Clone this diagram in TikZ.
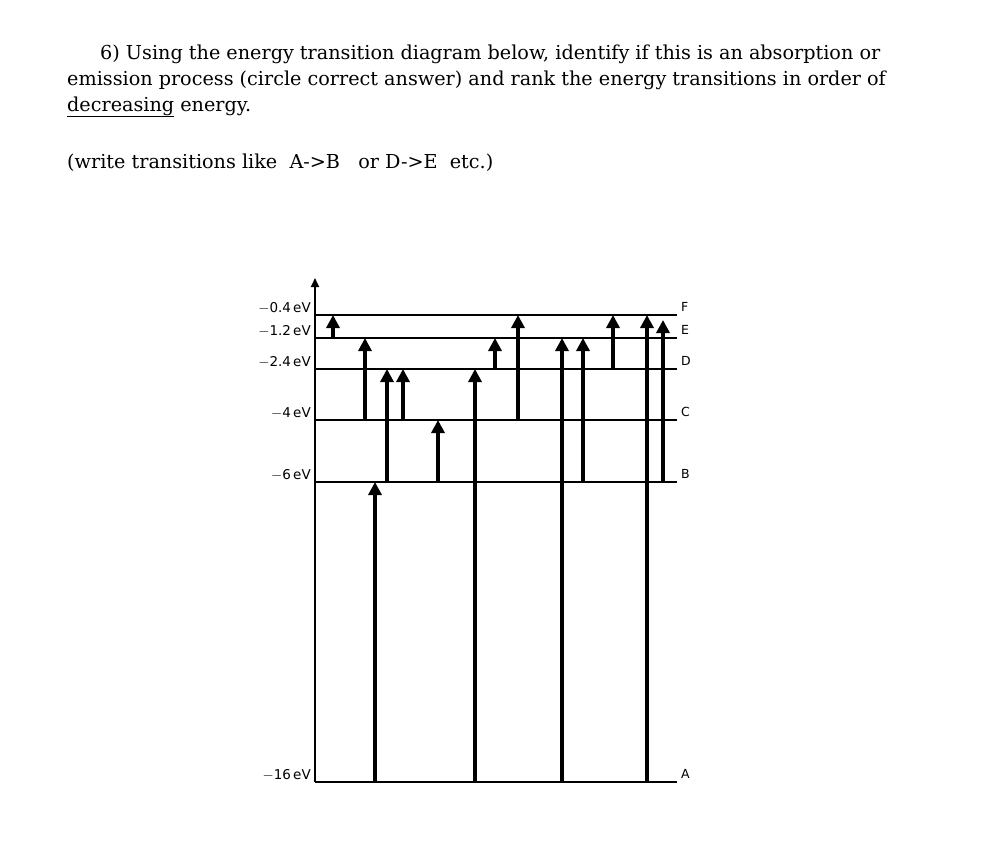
\documentclass[tikz,border=0pt]{standalone}
\usepackage{fontspec}
\setmainfont{DejaVu Serif}
\newfontfamily\lblfont{DejaVu Sans}
\usetikzlibrary{arrows.meta}
\begin{document}
\begin{tikzpicture}[x=1pt,y=-1pt,
  txt/.style={anchor=base west,inner sep=0pt,font=\fontsize{19.2}{22}\selectfont},
  lvl/.style={line width=1.8pt},
  ylab/.style={anchor=east,inner sep=0pt,font=\lblfont\fontsize{13.5}{15}\selectfont},
  rlab/.style={anchor=west,inner sep=0pt,font=\lblfont\fontsize{12.5}{15}\selectfont},
  up/.style={line width=3.5pt,-{Triangle[length=13pt,width=13pt]}}]
\useasboundingbox (0,0) rectangle (994,847);
\fill[white] (0,0) rectangle (994,847);
\node[txt] (t1) at (100,59) {6) Using the energy transition diagram below, identify if this is an absorption or};
\node[txt] (t2) at (67,85) {emission process (circle correct answer) and rank the energy transitions in order of};
\node[txt] (t3) at (67,111) {\underline{decreasing} energy.};
\node[txt] (t4) at (67,168) {(write transitions like\ \ A->B\ \ \ or D->E\ \ etc.)};
% axis
\coordinate (ax0) at (315,782);
\coordinate (ax1) at (315,278);
\draw[lvl,-{Triangle[length=9pt,width=8pt]}] (ax0) -- (ax1);
\foreach \n/\y/\v in {F/315/{$-$0.4\,eV},E/338/{$-$1.2\,eV},D/369/{$-$2.4\,eV},C/420/{$-$4\,eV},B/482/{$-$6\,eV},A/782/{$-$16\,eV}}{
  \coordinate (L\n) at (315,\y);
  \coordinate (R\n) at (677,\y);
  \draw[lvl] (L\n) -- (R\n);
  \node[ylab] (y\n) at (311,\y-7) {\v};
  \node[rlab] (r\n) at (681,\y-8) {\n};
}
\foreach \x/\a/\b in {333/E/F,365/C/E,375/A/B,387/B/D,403/C/D,438/B/C,475/A/D,495/D/E,518/C/F,562/A/E,583/B/E,613/D/F,647/A/F}{
  \draw[up] (L\a -| \x,0) -- (L\b -| \x,0);
}
\coordinate (gB) at (663,482);
\coordinate (gF) at (663,320);
\draw[up] (gB) -- (gF);
\end{tikzpicture}
\end{document}
